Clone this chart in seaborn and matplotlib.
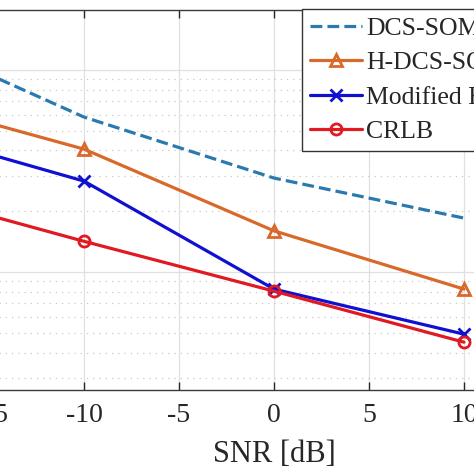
import numpy as np
import pandas as pd
import matplotlib
matplotlib.use('Agg')
import matplotlib.pyplot as plt
import seaborn as sns
from matplotlib.ticker import LogLocator, NullFormatter

# Data (y axis is log scale, labels cropped out)
snr = [-15, -10, 0, 10]
dcs_somp = [0.950, 0.585, 0.292, 0.185]
h_dcs = [0.547, 0.406, 0.160, 0.0824]
modified = [0.384, 0.282, 0.0824, 0.0493]
crlb = [0.191, 0.142, 0.0805, 0.045]

labels = ['DCS-SOMP', 'H-DCS-SOMP', 'Modified H-DCS-SOMP', 'CRLB']
colors = ['#2a7ab0', '#d9692a', '#1010d0', '#e01a22']
styles = ['--', '-', '-', '-']
markers = [None, '^', 'x', 'o']

sns.set_style('white')
plt.rcParams['font.family'] = ['Liberation Serif', 'DejaVu Serif']

fig = plt.figure(figsize=(4.74, 4.74), dpi=100)
# axes are wider than the figure: the picture is a crop of a bigger plot
ax = fig.add_axes([-49 / 474, 84 / 474, 646 / 474, 380 / 474])

series = [dcs_somp, h_dcs, modified, crlb]
for vals, lab, c, ls, m in zip(series, labels, colors, styles, markers):
    df = pd.DataFrame({'snr': snr, 'val': vals})
    sns.lineplot(data=df, x='snr', y='val', ax=ax, color=c, linestyle=ls,
                 marker=m, markersize=8 if m != 'x' else 9, markeredgewidth=2,
                 markerfacecolor='none', markeredgecolor=c,
                 linewidth=2.3, label=lab)

ax.set_yscale('log')
ax.set_xlim(-17, 17)
ax.set_ylim(0.0261, 1.981)
ax.set_xticks([-15, -10, -5, 0, 5, 10, 15])
ax.set_xticklabels(['-15', '-10', '-5', '0', '5', '10', '15'])
ax.yaxis.set_minor_locator(LogLocator(base=10, subs=np.arange(2, 10)))
ax.yaxis.set_minor_formatter(NullFormatter())

ax.grid(True, which='major', color='#e0e0e0', linewidth=0.9, linestyle='-')
ax.grid(True, which='minor', axis='y', color='#c8c8c8', linewidth=0.9, linestyle=(0, (1, 4)))
ax.set_axisbelow(True)

for s in ax.spines.values():
    s.set_color('#3a3a3a')
    s.set_linewidth(1.0)

ax.tick_params(axis='x', which='major', direction='in', length=6, width=1,
               top=True, bottom=True, labelsize=20, colors='#262626', pad=9)
ax.tick_params(axis='y', which='both', left=False, right=False)
ax.set_xlabel('SNR [dB]', fontsize=22, color='#262626', labelpad=9)
ax.set_ylabel('')

leg = ax.legend(loc='upper left', bbox_to_anchor=(302 / 474, 1 - 9 / 474),
                bbox_transform=fig.transFigure, fontsize=18.5, frameon=True,
                fancybox=False, framealpha=1, edgecolor='#333333',
                borderaxespad=0, handlelength=2.05, handletextpad=0.15,
                labelspacing=0.45, borderpad=0.3)
leg.get_frame().set_linewidth(1.0)

fig.savefig('out.png', dpi=100)
